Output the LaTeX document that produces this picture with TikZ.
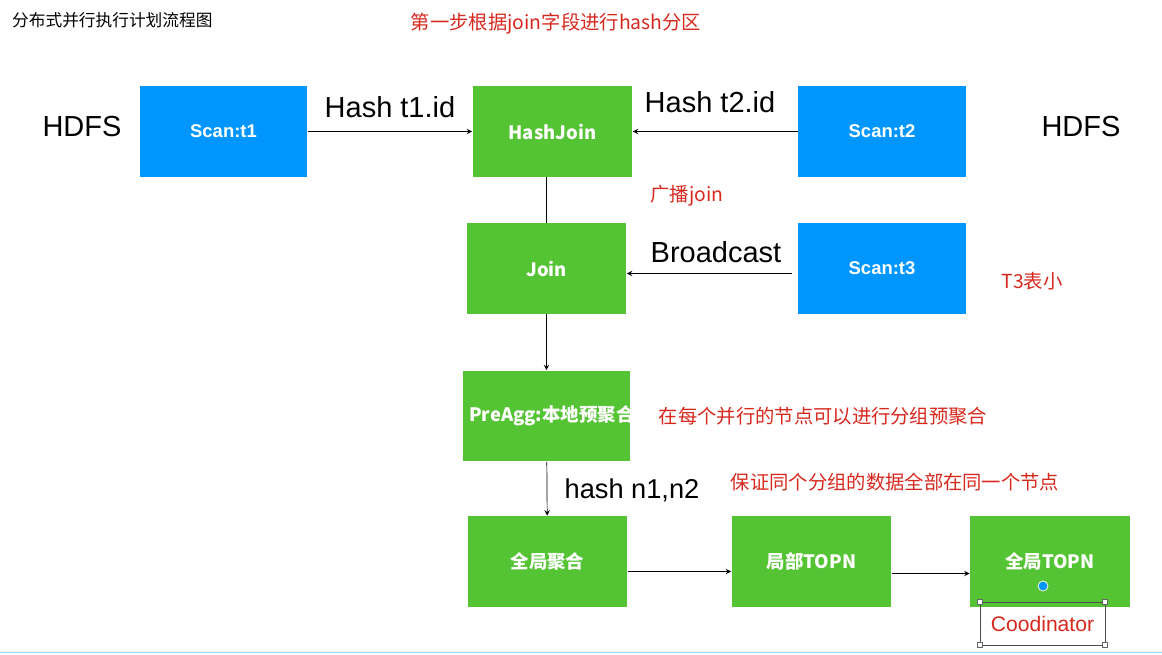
\documentclass[tikz,border=0pt]{standalone}
\usepackage{fontspec}
\setmainfont{Liberation Sans}
\newfontfamily\cjk{Noto Sans CJK SC}
\definecolor{scanblue}{RGB}{0,150,255}
\definecolor{opgreen}{RGB}{85,196,52}
\definecolor{notered}{RGB}{215,40,30}
\begin{document}
\begin{tikzpicture}[x=0.02cm,y=-0.02cm,
    scan/.style={draw=none,fill=scanblue,text=white,minimum width=3.36cm,minimum height=1.82cm,font=\fontsize{10.5}{12}\selectfont\bfseries},
    op/.style={draw=none,fill=opgreen,text=white,minimum width=3.2cm,minimum height=1.82cm,align=center,font=\fontsize{10.5}{14}\selectfont\bfseries\cjk},
    note/.style={text=notered,font=\fontsize{11}{13}\selectfont\cjk},
    big/.style={font=\fontsize{16.5}{18}\selectfont},
    flow/.style={->,>=stealth,thin}]
  \useasboundingbox (0,0) rectangle (1162,655);
  % scans
  \node[scan] (t1) at (223.5,131.5) {Scan:t1};
  \node[scan] (t2) at (882,131.5) {Scan:t2};
  \node[scan] (t3) at (882,268.5) {Scan:t3};
  % operators
  \node[op] (hj) at (552.5,131.5) {HashJoin};
  \node[op] (join) at (546.5,268.5) {Join};
  \node[op,text width=3.1cm] (pre) at (546.5,416) {PreAgg:本地预聚合};
  \node[op] (gagg) at (547.5,561.5) {全局聚合};
  \node[op] (ltop) at (811.5,561.5) {局部TOPN};
  \node[op] (gtop) at (1050,561.5) {全局TOPN};
  \fill[scanblue] (1043,586) circle (4.5);
  \draw[white,thin] (1043,586) circle (5);
  % coordinator
  \node[draw=black!70,thin,minimum width=2.5cm,minimum height=0.86cm,note,font=\fontsize{12}{14}\selectfont] (co) at (1042.5,623.5) {Coodinator};
  \foreach \p in {(980,602),(1105,602),(980,645),(1105,645)}
    \draw[black!60,fill=white] \p ++(-2.5,-2.5) rectangle ++(5,5);
  % connectors
  \draw[flow] (t1) -- (hj);
  \draw[flow] (t2) -- (hj);
  \draw (hj.south -| join) -- (join.north);
  \draw[flow] (t3.west) ++(-6,5) coordinate (t3w) (t3w) -- (t3w -| join.east);
  \draw[flow] (join) -- (pre);
  \draw[flow] (pre) -- (gagg);
  \draw[flow] (gagg.east) ++(0,10) coordinate (ga) (ga) -- (ga -| ltop.west);
  \draw[flow] (ltop.east) ++(0,12) coordinate (lt) (lt) -- (lt -| gtop.west);
  % labels
  \node[anchor=west,font=\fontsize{9.5}{11}\selectfont\cjk] (title) at (6,20) {分布式并行执行计划流程图};
  \node[note] (step) at (556,24) {第一步根据join字段进行hash分区};
  \node[big] (h1) at (82,127) {HDFS};
  \node[big] (h2) at (1081,127) {HDFS};
  \node[big] (k1) at (390,107) {Hash t1.id};
  \node[big] (k2) at (710,102) {Hash t2.id};
  \node[note] (bj) at (687,196) {广播join};
  \node[big] (bc) at (716,252) {Broadcast};
  \node[note] (t3n) at (1032,281) {T3表小};
  \node[note] (pren) at (823,416) {在每个并行的节点可以进行分组预聚合};
  \node[big,font=\fontsize{15.5}{17}\selectfont] (hn) at (632,490) {hash n1,n2};
  \node[note] (gn) at (895,482) {保证同个分组的数据全部在同一个节点};
  \draw[scanblue!40] (0,652) -- (1162,652);
\end{tikzpicture}
\end{document}
